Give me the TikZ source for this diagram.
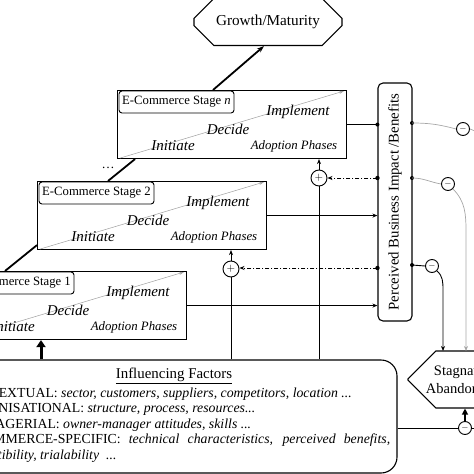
\documentclass[tikz,border=0pt]{standalone}
\usepackage{fontspec}
\setmainfont{Liberation Serif}
\usetikzlibrary{shapes.misc,arrows.meta,calc}
\begin{document}
\begin{tikzpicture}[x=1pt,y=-1pt,
  boxline/.style={draw,line width=1.1pt},
  stagebox/.style={boxline,rectangle,minimum width=229pt,minimum height=68pt,inner sep=0pt},
  labelbox/.style={draw,line width=0.9pt,rounded corners=3pt,minimum width=115pt,minimum height=22pt,inner sep=0pt,font=\fontsize{12.7}{14}\selectfont},
  phaseword/.style={inner sep=0pt,font=\fontsize{15}{16}\selectfont\itshape},
  phasesmall/.style={inner sep=0pt,font=\fontsize{12.8}{14}\selectfont\itshape},
  phasearrow/.style={draw=gray!75,line width=0.5pt,-{Stealth[length=5pt,width=3pt]}},
  conn/.style={line width=0.9pt},
  tip/.style={-{Stealth[length=5pt,width=4pt]}},
  plusc/.style={draw,circle,line width=0.9pt,minimum size=16pt,inner sep=0pt,font=\fontsize{11}{11}\selectfont},
  minusc/.style={draw,circle,line width=0.9pt,minimum size=13pt,inner sep=0pt,font=\fontsize{9}{9}\selectfont},
  octo/.style={boxline,chamfered rectangle,chamfered rectangle xsep=13pt,chamfered rectangle ysep=13pt,inner sep=0pt,align=center},
  dashdot/.style={line width=0.9pt,dash pattern=on 4pt off 2pt on 1pt off 2pt},
  fb/.style={draw=gray!70,line width=0.7pt},
  factline/.style={anchor=base west,inner sep=0pt,font=\fontsize{13.8}{15}\selectfont}
]
\useasboundingbox (0,0) rectangle (474,474);
\clip (0,0) rectangle (474,474);

% Growth / Maturity
\node[octo,minimum width=148pt,minimum height=47pt,font=\fontsize{15.2}{17}\selectfont] (growth) at (268,22) {Growth/Maturity};

% stages
\newcommand\mystage[4]{%
 \begin{scope}[shift={(#2,#3)}]
  \node[stagebox,anchor=north west] (#1) at (0,0) {};
  \node[labelbox] (#1l) at (59.5,12) {#4};
  \draw[phasearrow] ($(#1.south west)+(3,-1)$) -- ($(#1.north east)+(-3,1)$);
  \node[phaseword] (#1i) at (181,22) {Implement};
  \node[phaseword] (#1d) at (111,39) {Decide};
  \node[phaseword] (#1n) at (56,56) {Initiate};
  \node[phasesmall] (#1a) at (177,56) {Adoption Phases};
 \end{scope}}
\mystage{stagen}{117}{90}{E-Commerce Stage \textit{n}}
\mystage{stagetwo}{37}{181}{E-Commerce Stage 2}
\mystage{stageone}{-43}{271}{E-Commerce Stage 1}

\node[inner sep=0pt,font=\fontsize{13}{14}\selectfont] (dots) at (108,168) {\dots};

% stage links
\draw[line width=1.8pt,-{Stealth[length=7pt,width=5pt]}] (stagen.north -| 213,0) -- ($(growth.south)+(-4,0)$);
\draw[line width=1.8pt] (stagetwo.north -| 108,0) -- (stagen.south -| 135,0);
\draw[line width=1.8pt] (stageone.north -| 5,0) -- ($(stagetwo.south west)+(0,-5)$);

% Perceived business impact
\node[boxline,rounded corners=5pt,minimum width=34pt,minimum height=238pt,inner sep=0pt] (pbi) at (395,202) {};
\node[rotate=90,inner sep=0pt,font=\fontsize{14.8}{16}\selectfont] (pbit) at (pbi.center) {Perceived Business Impact /Benefits};

\draw[conn] (stagen.east) -- (stagen.east -| pbi.west);
\fill (stagen.east -| pbi.west) circle (2pt);
\draw[conn,tip] (stagetwo.east) -- (stagetwo.east -| pbi.west);
\draw[conn,tip] (stageone.east) -- (stageone.east -| pbi.west);

% Influencing factors
\node[boxline,rounded corners=16pt,minimum width=447pt,minimum height=113pt,inner sep=0pt] (factors) at (173.5,416.5) {};
\node[inner sep=0pt,font=\fontsize{14.9}{16}\selectfont] (ftitle) at (174,376) {\underline{Influencing Factors}};
\node[factline] (f1) at (-39,397) {CONTEXTUAL: \textit{sector, customers, suppliers, competitors, location ...}};
\node[factline] (f2) at (-41,412.5) {ORGANISATIONAL: \textit{structure, process, resources...}};
\node[factline] (f3) at (-37,428) {MANAGERIAL: \textit{owner-manager attitudes, skills ...}};
\node[factline] (f4) at (-39,443.5) {\makebox[429pt][s]{E-COMMERCE-SPECIFIC: \textit{technical characteristics, perceived benefits,}}};
\node[factline] (f5) at (-39,459) {\textit{compatibility, trialability\ \ ...}};

% plus circles
\node[plusc] (ptop) at (319,178) {$+$};
\node[plusc] (pbot) at (231,269) {$+$};
\draw[conn] (ptop.south |- factors.north) -- (ptop.south);
\draw[conn,tip] (ptop.north) -- (ptop.north |- stagen.south);
\draw[conn] (pbot.south |- factors.north) -- (pbot.south);
\draw[conn,tip] (pbot.north) -- (pbot.north |- stagetwo.south);
\draw[dashdot,tip] (ptop -| pbi.west) -- (ptop.east);
\fill (ptop -| pbi.west) circle (2.2pt);
\draw[dashdot,tip] ($(pbot -| pbi.west)+(0,-1)$) -- ($(pbot.east)+(0,-1)$);
\fill ($(pbot -| pbi.west)+(0,-1)$) circle (2.2pt);

% thick arrow to stage 1
\draw[line width=3pt,-{Triangle[length=7pt,width=9pt]}] (factors.north -| 41,0) -- (stageone.south -| 41,0);

% Stagnation / Abandonment
\node[octo,minimum width=118pt,minimum height=57pt,chamfered rectangle xsep=16pt,chamfered rectangle ysep=14pt,font=\fontsize{14.5}{18}\selectfont] (stag) at (467,379.5) {Stagnation/\\Abandonment};

% feedback
\coordinate (fa) at (412,123);
\coordinate (fbp) at (412,178);
\coordinate (fc) at (412,265);
\node[minusc] (ma) at (463,129) {$-$};
\node[minusc] (mb) at (448,184) {$-$};
\node[minusc] (mc) at (432,266) {$-$};
\node[minusc] (md) at (465,428) {$-$};
\fill (fa) circle (2pt);
\fill (fbp) circle (2pt);
\fill (fc) circle (2pt);
\coordinate (offa) at (490,160);
\coordinate (sb) at (466,351);
\coordinate (sc) at (443,351);
\coordinate (offd) at (480,428);
\draw[fb] (fa) to[out=0,in=165] (ma.west);
\draw[fb] (ma.east) to[out=-15,in=110] (offa);
\draw[fb] (fbp) to[out=0,in=170] (mb.west);
\draw[fb,tip] (mb.south east) to[out=-45,in=90] (466,232) -- (sb);
\draw[conn] (fc) -- (mc.west);
\draw[conn,tip] (mc.south east) to[out=-40,in=90] (443,290) -- (sc);
\draw[conn] (factors.east |- md) -- (md.west);
\draw[conn] (md.east) -- (offd);
\draw[line width=1.2pt,-{Triangle[length=6pt,width=6pt]}] (md.north) -- (md.north |- stag.south);
\end{tikzpicture}
\end{document}
